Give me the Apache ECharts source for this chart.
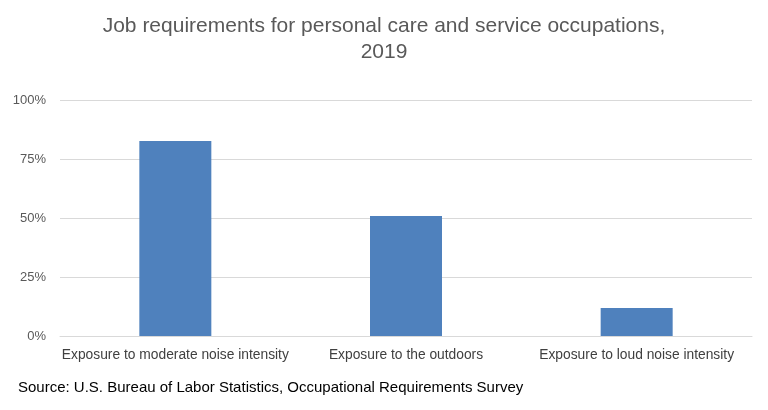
<!DOCTYPE html>
<html>
<head>
<meta charset="utf-8">
<script src="https://cdn.jsdelivr.net/npm/echarts@6/dist/echarts.min.js"></script>
<style>
  html, body { margin: 0; padding: 0; background: #fff; }
  #main { width: 768px; height: 410px; }
</style>
</head>
<body>
<div id="main"></div>
<script>
var categories = ['Exposure to moderate noise intensity', 'Exposure to the outdoors', 'Exposure to loud noise intensity'];
var values = [82.6, 50.8, 11.9];
var yTicks = [0, 25, 50, 75, 100];

var chart = echarts.init(document.getElementById('main'));
var option = {
    animation: false,
    title: {
        text: 'Job requirements for personal care and service occupations,\n2019',
        left: 'center',
        top: 8,
        textStyle: {
            fontFamily: 'Liberation Sans',
            fontSize: 21,
            fontWeight: 'normal',
            color: '#595959',
            lineHeight: 26
        }
    },
    graphic: [{
        type: 'text',
        left: 18,
        top: 380,
        style: {
            text: 'Source: U.S. Bureau of Labor Statistics, Occupational Requirements Survey',
            font: '15px "Liberation Sans"',
            fill: '#000'
        }
    }],
    grid: {
        left: 60,
        right: 16,
        top: 100,
        bottom: 74
    },
    xAxis: {
        type: 'category',
        data: categories,
        axisLine: { lineStyle: { color: '#d9d9d9' } },
        axisTick: { show: false },
        axisLabel: {
            interval: 0,
            margin: 12,
            fontFamily: 'Liberation Sans',
            fontSize: 13.8,
            color: '#404040'
        }
    },
    yAxis: {
        type: 'value',
        min: yTicks[0],
        max: yTicks[yTicks.length - 1],
        interval: 25,
        axisLine: { show: false },
        axisTick: { show: false },
        splitLine: { lineStyle: { color: '#d9d9d9' } },
        axisLabel: {
            margin: 14,
            fontFamily: 'Liberation Sans',
            fontSize: 13,
            color: '#595959',
            formatter: '{value}%'
        }
    },
    series: [{
        type: 'bar',
        data: values,
        barWidth: 72,
        itemStyle: { color: '#4f81bd' }
    }]
};
chart.setOption(option);
</script>
</body>
</html>
